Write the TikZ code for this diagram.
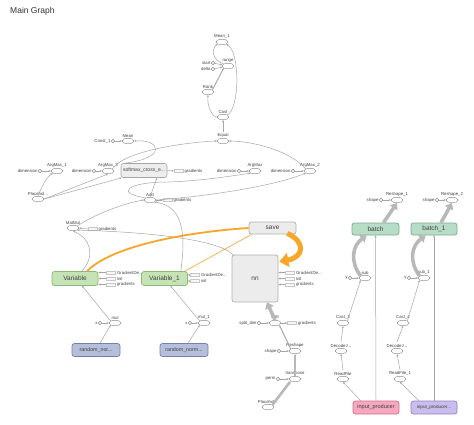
\documentclass[tikz,border=0pt]{standalone}
\usepackage{fontspec}
\setmainfont{Liberation Sans}
\usetikzlibrary{shapes.geometric,arrows.meta,calc}
\definecolor{varfill}{RGB}{198,227,182}
\definecolor{vardraw}{RGB}{140,184,120}
\definecolor{batfill}{RGB}{184,221,198}
\definecolor{batdraw}{RGB}{122,170,142}
\definecolor{rnfill}{RGB}{181,190,219}
\definecolor{rndraw}{RGB}{118,128,168}
\definecolor{pkfill}{RGB}{245,168,192}
\definecolor{pkdraw}{RGB}{212,110,142}
\definecolor{pufill}{RGB}{202,188,236}
\definecolor{pudraw}{RGB}{150,130,200}
\definecolor{nsfill}{RGB}{236,236,236}
\definecolor{nsdraw}{RGB}{176,176,176}
\definecolor{tforange}{RGB}{247,166,40}
\begin{document}
\begin{tikzpicture}[x=1pt,y=-1pt,
  op/.style={ellipse, draw=black!45, fill=white, line width=0.45pt, minimum width=12pt, minimum height=5.5pt, inner sep=0pt},
  cst/.style={circle, draw=black!45, fill=white, line width=0.4pt, minimum size=3.5pt, inner sep=0pt},
  lab/.style={font=\fontsize{4.3}{5}\selectfont, text=black!75, inner sep=0.4pt},
  ed/.style={draw=black!35, line width=0.5pt, -{Stealth[length=2.2pt,width=2pt]}},
  fat/.style={draw=black!28, line width=3.5pt, -{Triangle[length=6pt,width=9pt]}},
  grect/.style={rectangle, draw=black!22, fill=black!3, line width=0.3pt, minimum width=9pt, minimum height=3pt, inner sep=0pt},
  boxbase/.style={rectangle, rounded corners=2.5pt, line width=0.7pt, inner sep=0pt, text=black!75},
  vbox/.style={boxbase, fill=varfill, draw=vardraw, minimum width=46pt, minimum height=14pt, font=\fontsize{6.5}{7}\selectfont},
  bbox/.style={boxbase, fill=batfill, draw=batdraw, minimum width=47pt, minimum height=12pt, font=\fontsize{6.5}{7}\selectfont},
  rbox/.style={boxbase, fill=rnfill, draw=rndraw, minimum width=48pt, minimum height=13pt, font=\fontsize{5.3}{6}\selectfont},
  nbox/.style={boxbase, fill=nsfill, draw=nsdraw, font=\fontsize{6.5}{7}\selectfont},
  pbox/.style={boxbase, fill=pkfill, draw=pkdraw, minimum width=46pt, minimum height=13pt, font=\fontsize{5.6}{6}\selectfont},
  ubox/.style={boxbase, fill=pufill, draw=pudraw, minimum width=46pt, minimum height=13pt, font=\fontsize{4.6}{5}\selectfont},
  sbox/.style={boxbase, fill=black!7, draw=black!35, line width=0.6pt, minimum width=46pt, minimum height=14pt, font=\fontsize{5}{6}\selectfont}
]
\useasboundingbox[fill=white] (0,0) rectangle (474,424);
\node[anchor=west, font=\fontsize{8.5}{9}\selectfont, text=black!80, inner sep=0pt] (title) at (10,11) {Main Graph};

% ---------- top group
\node[op,label={[lab]above:Mean\_1}] (mean1) at (222,42) {};
\node[op,label={[lab]above:range}] (range) at (228,66) {};
\node[cst,label={[lab]left:start}] (start) at (213,63) {};
\node[cst,label={[lab]left:delta}] (delta) at (213,69) {};
\node[op,label={[lab]above:Rank}] (rank) at (208,92) {};
\node[op,label={[lab]above:Cast}] (cast) at (223,117) {};
\node[op,label={[lab]above:Equal}] (equal) at (223,141) {};
\draw[ed] (start) -- (range);
\draw[ed] (delta) -- (range);
\draw[ed, line width=0.9pt] (rank.north east) -- (range.south west);
\draw[ed] (cast.west) .. controls (212,117) and (207,106) .. (rank.south);
\draw[ed] (range.north west) .. controls (212,60) and (211,49) .. (mean1.south west);
\draw[ed] (cast.north east) .. controls (240,108) and (240,52) .. (mean1.south east);
\draw[ed] ($(equal.north)+(0,-6.5)$) -- (cast.south);

% ---------- middle row
\node[op,label={[lab]above:Mean}] (mean) at (128,141) {};
\node[cst,label={[lab]left:Const\_1}] (const1) at (113,141) {};
\node[op,label={[lab]above:ArgMax\_1}] (am1) at (57,171) {};
\node[cst,label={[lab]left:dimension}] (d1) at (40,171) {};
\node[op,label={[lab]above:ArgMax\_3}] (am3) at (108,171) {};
\node[cst,label={[lab]left:dimension}] (d3) at (94,171) {};
\node[op,label={[lab]above:ArgMax}] (am0) at (255,171) {};
\node[cst,label={[lab]left:dimension}] (d0) at (239,171) {};
\node[op,label={[lab]above:ArgMax\_2}] (am2) at (310,171) {};
\node[cst,label={[lab]left:dimension}] (d2) at (293,171) {};
\node[sbox] (smx) at (144,170.5) {softmax\_cross\_e...};
\node[grect] (smxg) at (178.5,171) {};
\node[lab, anchor=west] (smxgt) at (184,171) {gradients};
\node[op,label={[lab]above:Placehol...}] (ph1) at (38,199) {};
\node[op,label={[lab]above:Add}] (add) at (150,200) {};
\node[grect] (addg) at (167.5,200) {};
\node[lab, anchor=west] (addgt) at (173,200) {gradients};

\draw[ed] (const1) -- (mean);
\draw[ed] (d1) -- (am1);
\draw[ed] (d3) -- (am3);
\draw[ed] (d0) -- (am0);
\draw[ed] (d2) -- (am2);
\draw[ed] (smx.east) -- (smxg.west);
\draw[ed] (add.east) -- (addg.west);
\draw[ed] ($(smx.north west)+(4,0)$) .. controls (168,158) and (160,139) .. (mean.east);
\draw[ed] (am3.north east) .. controls (125,150) and (190,142) .. (equal.west);
\draw[ed] (am2.north west) .. controls (290,150) and (250,141) .. (equal.east);
\draw[ed] (ph1.north) .. controls (41,188) and (46,178) .. (am1.south west);
\draw[ed] (ph1.east) -- (am3.south);
\draw[ed] (ph1.east) -- ($(smx.south west)+(1,0)$);
\draw[ed] (add.north) -- ($(smx.south)+(13,0)$);
\draw[ed] (add.north west) .. controls (114,193) and (128,182) .. (168,182) .. controls (200,181) and (232,176) .. (am0.south west);
\draw[ed] (add.east) .. controls (200,197) and (272,187) .. (am2.south west);

% ---------- lower left
\node[op,label={[lab]above:MatMul}] (matmul) at (73,228) {};
\node[grect] (mmg) at (92.5,229) {};
\node[lab, anchor=west] (mmgt) at (98,229) {gradients};
\node[vbox] (var) at (75,278.5) {Variable};
\node[vbox] (var1) at (164.5,278.5) {Variable\_1};
\node[grect] (vg1) at (111,272.5) {};
\node[grect] (vg2) at (111,278.5) {};
\node[grect] (vg3) at (111,284.5) {};
\node[lab, anchor=west] (vt1) at (116.5,272.5) {GradientDe...};
\node[lab, anchor=west] (vt2) at (116.5,278.5) {init};
\node[lab, anchor=west] (vt3) at (116.5,284.5) {gradients};
\node[grect] (v1g1) at (195,275) {};
\node[grect] (v1g2) at (195,281) {};
\node[lab, anchor=west] (v1t1) at (200.5,275) {GradientDe...};
\node[lab, anchor=west] (v1t2) at (200.5,281) {init};
\node[op,label={[lab]above:mul}] (mul) at (115,323) {};
\node[cst,label={[lab]left:x}] (mx) at (100,323) {};
\node[op,label={[lab]above:mul\_1}] (mul1) at (204,323) {};
\node[cst,label={[lab]left:x}] (mx1) at (190,323) {};
\node[rbox] (rn) at (96,350) {random\_nor...};
\node[rbox] (rn1) at (184,350) {random\_norm...};

\draw[ed] (mmg.west) -- (matmul.east);
\foreach \g in {vg1,vg2,vg3}{\draw[ed] (\g.west) -- (\g.west -| var.east);}
\foreach \g in {v1g1,v1g2}{\draw[ed] (\g.west) -- (\g.west -| var1.east);}
\draw[ed] (matmul.north east) .. controls (95,214) and (125,203) .. (add.west);
\draw[ed] ($(var1.north east)+(-7,0)$) .. controls (185,240) and (186,206) .. (add.south east);
\draw[ed] ($(var.north)+(7,0)$) .. controls (96,255) and (90,238) .. (matmul.south);
\draw[ed] (mul.north west) -- ($(var.south)+(7,0)$);
\draw[ed] (mul1.north west) -- ($(var1.south)+(6,0)$);
\draw[ed] (mx) -- (mul);
\draw[ed] (mx1) -- (mul1);
\draw[ed] ($(rn.north)+(4,0)$) -- (mul.south west);
\draw[ed] ($(rn1.north)+(4,0)$) -- (mul1.south west);

% ---------- save / nn
\node[nbox, minimum width=47pt, minimum height=12pt] (save) at (272.5,228) {save};
\node[nbox, minimum width=46pt, minimum height=47pt] (nn) at (255,278.5) {nn};
\node[grect] (ng1) at (290,272.5) {};
\node[grect] (ng2) at (290,278.5) {};
\node[grect] (ng3) at (290,284.5) {};
\node[lab, anchor=west] (nt1) at (295.5,272.5) {GradientDe...};
\node[lab, anchor=west] (nt2) at (295.5,278.5) {init};
\node[lab, anchor=west] (nt3) at (295.5,284.5) {gradients};
\foreach \g in {ng1,ng2,ng3}{\draw[ed] (\g.west) -- (\g.west -| nn.east);}
\draw[ed] ($(nn.north west)+(2,1)$) .. controls (222,240) and (150,232) .. (matmul.south east);
\draw[draw=tforange, line width=1.8pt] (save.west) .. controls (200,231) and (115,243) .. ($(var.north)+(12,0)$);
\draw[draw=tforange, line width=0.6pt] ($(save.south west)+(3,0)$) -- ($(var1.north east)+(-3,0)$);
\draw[draw=tforange, line width=5pt, -{Triangle[length=9pt,width=14pt]}] ($(save.south east)+(-9,-1)$) .. controls (306,242) and (304,257) .. ($(nn.north east)+(1,7)$);

\node[op,label={[lab]above:split}] (split) at (275,323) {};
\node[cst,label={[lab]left:split\_dim}] (sd) at (259,323) {};
\node[grect] (spg) at (292,323) {};
\node[lab, anchor=west] (spgt) at (297.5,323) {gradients};
\node[op,label={[lab]above:Reshape}] (reshape) at (295,351) {};
\node[cst,label={[lab]left:shape}] (rsh) at (279,351) {};
\node[op,label={[lab]above:transpose}] (transpose) at (295,379) {};
\node[cst,label={[lab]left:perm}] (perm) at (278,379) {};
\node[op,label={[lab]above:Placehol...}] (ph2) at (268,407) {};
\draw[ed] (sd) -- (split);
\draw[ed] (split.east) -- (spg.west);
\draw[ed] (rsh) -- (reshape);
\draw[ed] (perm) -- (transpose);
\draw[fat] (split.north) -- ($(nn.south)+(12,0)$);
\draw[ed, line width=1pt] (reshape.north west) -- (split.south east);
\draw[ed, line width=1.6pt, draw=black!28] (transpose.north) -- (reshape.south);
\draw[ed, line width=2.6pt, draw=black!28] (ph2.north east) -- (transpose.south west);

% ---------- right group
\node[op,label={[lab]above:Reshape\_1}] (rs1) at (397,200) {};
\node[cst,label={[lab]left:shape}] (rs1c) at (381,200) {};
\node[op,label={[lab]above:Reshape\_2}] (rs2) at (452,200) {};
\node[cst,label={[lab]left:shape}] (rs2c) at (437,200) {};
\node[bbox] (batch) at (375.5,229) {batch};
\node[bbox, minimum width=46pt] (batch1) at (434,229) {batch\_1};
\node[op,label={[lab]above:sub}] (sub) at (365,278) {};
\node[cst,label={[lab]left:y}] (suby) at (350,278) {};
\node[op,label={[lab]above:sub\_1}] (sub1) at (424,278) {};
\node[cst,label={[lab]left:y}] (sub1y) at (409,278) {};
\node[op,label={[lab]above:Cast\_3}] (cast3) at (343,323) {};
\node[op,label={[lab]above:Cast\_4}] (cast4) at (403,323) {};
\node[op,label={[lab]above:DecodeJ...}] (dec) at (341,351) {};
\node[op,label={[lab]above:DecodeJ...}] (dec1) at (397,351) {};
\node[op,label={[lab]above:ReadFile}] (rf) at (343,379) {};
\node[op,label={[lab]above:ReadFile\_1}] (rf1) at (400,379) {};
\node[pbox] (ip) at (376,407.5) {input\_producer};
\node[ubox] (ip1) at (434,407.5) {input\_producer...};

\draw[ed] (rs1c) -- (rs1);
\draw[ed] (rs2c) -- (rs2);
\draw[ed] (suby) -- (sub);
\draw[ed] (sub1y) -- (sub1);
\draw[fat] ($(batch.north)+(8,0)$) -- (rs1.south);
\draw[fat] ($(batch1.north)+(7,0)$) -- (rs2.south);
\draw[fat] (sub.north west) .. controls (350,262) and (352,246) .. ($(batch.south west)+(15,0)$);
\draw[fat] (sub1.north west) .. controls (409,262) and (411,246) .. ($(batch1.south west)+(15,0)$);
\draw[ed] (cast3.north east) -- (sub.south west);
\draw[ed] (cast4.north east) -- (sub1.south west);
\draw[ed] ($(dec.north)+(0,-6)$) -- (cast3.south);
\draw[ed] ($(dec1.north)+(0,-6)$) -- (cast4.south);
\draw[ed] ($(rf.north)+(0,-6)$) -- (dec.south);
\draw[ed] ($(rf1.north)+(0,-6)$) -- (dec1.south);
\draw[ed] ($(ip.north west)+(8,0)$) -- (rf.south);
\draw[ed] ($(ip1.north west)+(8,0)$) -- (rf1.south);
\draw[ed] (ip.north) -- (batch.south);
\draw[ed] (ip1.north) -- (batch1.south);
\end{tikzpicture}
\end{document}
